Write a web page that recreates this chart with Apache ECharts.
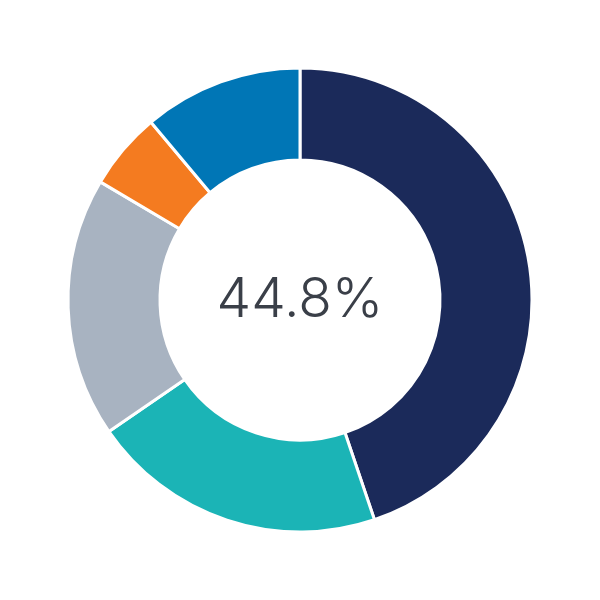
<!DOCTYPE html>
<html>
<head>
<meta charset="utf-8">
<script src="https://cdn.jsdelivr.net/npm/echarts@6/dist/echarts.min.js"></script>
<style>html,body{margin:0;padding:0;background:#fff;}#c{width:600px;height:600px;}</style>
</head>
<body>
<div id="c"></div>
<script>
const categories = ['A', 'B', 'C', 'D', 'E'];
const values = [44.8, 20.6, 18.1, 5.4, 11.1];
const colors = ['#1b2a5a', '#1bb4b6', '#a8b3c1', '#f47b20', '#0076b6'];
const centerLabel = '44.8%';

const chart = echarts.init(document.getElementById('c'));
chart.setOption({
  animation: false,
  graphic: [{
    type: 'text',
    left: 'center',
    top: 'middle',
    style: {
      text: centerLabel,
      fill: '#3a3f48',
      font: '300 55px Inter, "Open Sans", sans-serif',
      textAlign: 'center',
      textVerticalAlign: 'middle'
    }
  }],
  series: [{
    type: 'pie',
    center: [300, 300],
    radius: [140, 232],
    startAngle: 90,
    clockwise: true,
    label: { show: false },
    labelLine: { show: false },
    emphasis: { disabled: true },
    itemStyle: { borderColor: '#fff', borderWidth: 3 },
    data: categories.map((c, i) => ({ name: c, value: values[i], itemStyle: { color: colors[i] } }))
  }]
});
</script>
</body>
</html>
